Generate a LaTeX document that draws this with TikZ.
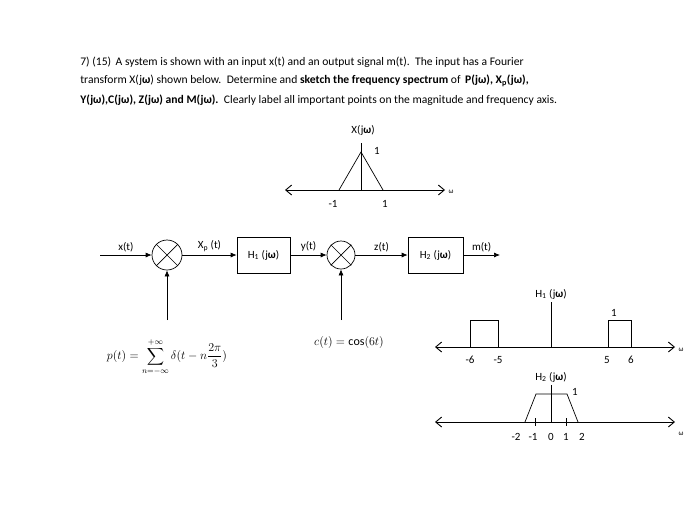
\documentclass[tikz,border=0pt]{standalone}
\usepackage{amsmath}
\usepackage{fontspec}
\setmainfont{Carlito}
\usetikzlibrary{arrows.meta}
\tikzset{
  blk/.style={draw, minimum width=53pt, minimum height=36pt, inner sep=0pt},
  mult/.style={draw, circle, minimum size=30pt, inner sep=0pt},
  sig/.style={-{Latex[length=6pt,width=5pt]}},
  ax/.style={{Straight Barb[length=6pt,width=10pt]}-{Straight Barb[length=6pt,width=10pt]}, line width=0.9pt},
  lbl/.style={font=\fontsize{11}{12}\selectfont, inner sep=1pt},
  txt/.style={font=\fontsize{11.6}{13}\selectfont, inner sep=0pt, anchor=west}
}
\begin{document}
\begin{tikzpicture}[x=1pt,y=-1pt, line width=0.7pt]
   \useasboundingbox (0,0) rectangle (700,528);
   % question text
   \node[txt] at (80,62) {7) (15)\, A system is shown with an input x(t) and an output signal m(t).\, The input has a Fourier};
   \node[txt] at (80,81) {transform X(j\textbf{ω}) shown below.\, Determine and \textbf{sketch the frequency spectrum} of\, \textbf{P(jω), X\textsubscript{p}(jω),}};
   \node[txt] at (80,100) {\textbf{Y(jω),C(jω), Z(jω) and M(jω).}\, Clearly label all important points on the magnitude and frequency axis.};
   % X(jw)
   \node[lbl] (xlab) at (363,130) {X(j\textbf{ω})};
   \draw[ax] (285,190) -- (445,190);
   \node[lbl] at (451,192) {\scriptsize ω};
   \draw (339,190) -- (361,152) -- (383,190);
   \draw (361,143) -- (361,190);
   \node[lbl] at (377,151) {1};
   \node[lbl] at (333,204) {-1};
   \node[lbl] at (385,204) {1};
   % block diagram
   \coordinate (in) at (100,255);
   \node[mult] (m1) at (167,255) {};
   \draw (m1.north west) -- (m1.south east) (m1.north east) -- (m1.south west);
   \node[blk] (h1) at (263.5,255) {\fontsize{11}{12}\selectfont H\textsubscript{1} (j\textbf{ω})};
   \node[mult, minimum size=28pt] (m2) at (341,255) {};
   \draw (m2.north west) -- (m2.south east) (m2.north east) -- (m2.south west);
   \node[blk, minimum width=55pt] (h2) at (435.5,255) {\fontsize{11}{12}\selectfont H\textsubscript{2} (j\textbf{ω})};
   \coordinate (out) at (500,255);
   \coordinate (p) at (167,320);
   \coordinate (c) at (341,320);
   \draw[sig] (in) -- (m1) node[lbl, midway, above=2pt] {x(t)};
   \draw[sig] (m1) -- (h1) node[lbl, midway, above=2pt] {X\textsubscript{p} (t)};
   \draw[sig] (h1) -- (m2) node[lbl, midway, above=2pt] {y(t)};
   \draw[sig] (m2) -- (h2) node[lbl, midway, above=2pt] {z(t)};
   \draw[sig] (h2) -- (out) node[lbl, midway, above=2pt] {m(t)};
   \draw[sig] (p) -- (m1);
   \draw[sig] (c) -- (m2);
   \node[inner sep=0pt, font=\fontsize{12}{14}\selectfont] (pt) at (167,357) {$p(t)=\displaystyle\sum_{n=-\infty}^{+\infty}\delta(t-n\frac{2\pi}{3})$};
   \node[inner sep=0pt, font=\fontsize{12}{14}\selectfont] (ct) at (349,342) {$c(t)=\cos(6t)$};
   % H1(jw)
   \node[lbl] at (551,294) {H\textsubscript{1} (j\textbf{ω})};
   \draw[ax] (435,347) -- (675,347);
   \node[lbl] at (681,350) {\scriptsize ω};
   \draw (551,302) -- (551,347);
   \draw (470,347) -- (470,320) -- (498,320) -- (498,347);
   \draw (608,347) -- (608,320) -- (631,320) -- (631,347);
   \node[lbl] at (614,313) {1};
   \foreach \x/\t in {470/-6, 498/-5, 607/5, 631/6}
      \node[lbl] at (\x,360) {\t};
   % H2(jw)
   \node[lbl] at (551,377) {H\textsubscript{2} (j\textbf{ω})};
   \draw[ax] (435,422) -- (675,422);
   \node[lbl] at (681,434) {\scriptsize ω};
   \draw (551,385) -- (551,422);
   \draw (525,422) -- (536,394) -- (567,394) -- (578,422);
   \draw (535,418) -- (535,426) (566,418) -- (566,426);
   \node[lbl] at (575,392) {1};
   \foreach \x/\t in {516/-2, 533/-1, 551/0, 566/1, 582/2}
      \node[lbl] at (\x,437) {\t};
\end{tikzpicture}
\end{document}
